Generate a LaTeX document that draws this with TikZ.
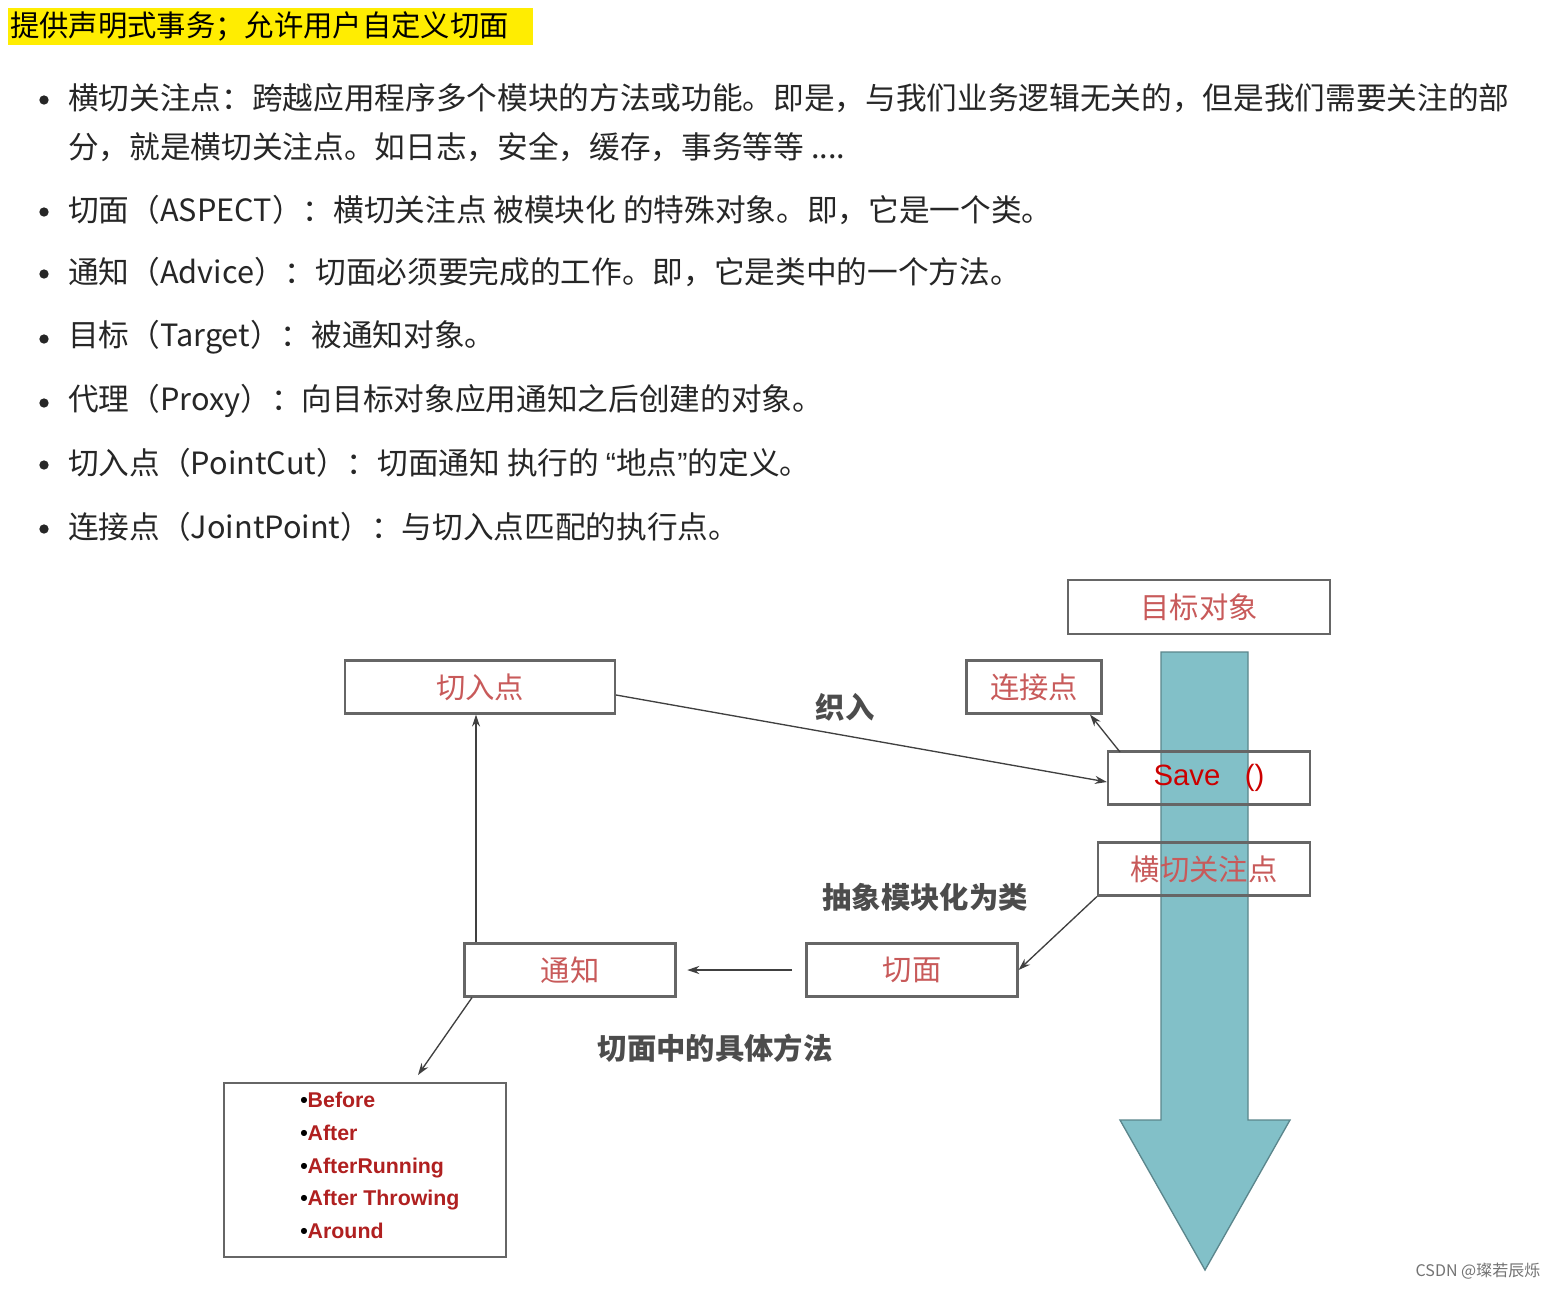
\documentclass[tikz,border=0pt]{standalone}
\usepackage{fontspec}
\setmainfont{Noto Sans CJK SC}
\newfontfamily\latf{Liberation Sans}
\usetikzlibrary{arrows.meta}
\definecolor{boxred}{HTML}{C85A5A}
\definecolor{teal1}{HTML}{82C0C8}
\definecolor{listred}{HTML}{B02020}
\tikzset{
  bx/.style={draw=black!60,line width=1.6pt,fill=white,text=boxred,font=\fontsize{22}{24}\selectfont},
  ln/.style={black!75,line width=1pt,-{Stealth[length=9pt,width=6pt]}},
  bt/.style={anchor=west,font=\fontsize{23}{26}\selectfont,text=black!85},
  lbl/.style={font=\bfseries\fontsize{22}{24}\selectfont,text=black!70},
  dot/.style={circle,fill=black!85,inner sep=0pt,minimum size=7pt}
}
\begin{document}
\begin{tikzpicture}[x=0.75pt,y=-0.75pt]
\useasboundingbox (0,0) rectangle (1561,1289);
\fill[white] (0,0) rectangle (1561,1289);
% title
\fill[yellow!95!orange] (8,8) rectangle (533,45);
\node[anchor=west,font=\fontsize{22}{24}\selectfont,inner sep=0pt] (title) at (10,26) {提供声明式事务；允许用户自定义切面};
% bullets
\foreach \y/\t [count=\i] in {98/{横切关注点：跨越应用程序多个模块的方法或功能。即是，与我们业务逻辑无关的，但是我们需要关注的部},
  210/{切面（ASPECT）：横切关注点 被模块化 的特殊对象。即，它是一个类。},
  272/{通知（Advice）：切面必须要完成的工作。即，它是类中的一个方法。},
  337/{目标（Target）：被通知对象。},
  401/{代理（Proxy）：向目标对象应用通知之后创建的对象。},
  463/{切入点（PointCut）：切面通知 执行的 {\latf“}地点{\latf”}的定义。},
  527/{连接点（JointPoint）：与切入点匹配的执行点。}}{
  \node[dot] (d\i) at (44,\y+2) {};
  \node[bt,inner sep=0pt] (b\i) at (68,\y) {\t};
}
\node[bt,inner sep=0pt] (b1b) at (68,147) {分，就是横切关注点。如日志，安全，缓存，事务等等 ....};
% big arrow
\draw[teal1!70!black,line width=1pt,fill=teal1] (1161,652) -- (1248,652) -- (1248,1120) -- (1290,1120) -- (1205,1270) -- (1120,1120) -- (1161,1120) -- cycle;
% boxes
\node[bx,minimum width=262*0.75pt,minimum height=54*0.75pt] (mb) at (1199,607) {目标对象};
\node[bx,minimum width=270*0.75pt,minimum height=53*0.75pt] (qrd) at (480,687) {切入点};
\node[bx,minimum width=135*0.75pt,minimum height=53*0.75pt] (ljd) at (1034,687) {连接点};
\node[bx,fill=none,minimum width=202*0.75pt,minimum height=53*0.75pt,text=red!80!black,font=\latf\fontsize{22}{24}\selectfont] (save) at (1209,778) {Save\ \ \ ()};
\node[bx,fill=none,minimum width=212*0.75pt,minimum height=53*0.75pt] (hq) at (1204,869) {横切关注点};
\node[bx,minimum width=211*0.75pt,minimum height=53*0.75pt] (tz) at (570,970) {通知};
\node[bx,minimum width=211*0.75pt,minimum height=53*0.75pt] (qm) at (912,970) {切面};
\node[draw=black!60,line width=1.6pt,minimum width=282*0.75pt,minimum height=174*0.75pt] (lst) at (365,1170) {};
\node[anchor=north west,align=left,inner sep=0pt,font=\latf\bfseries\fontsize{16}{24.5}\selectfont,text=listred] (items) at (300,1092)
 {\textcolor{black}{•}Before\\\textcolor{black}{•}After\\\textcolor{black}{•}AfterRunning\\\textcolor{black}{•}After Throwing\\\textcolor{black}{•}Around};
% labels
\node[lbl] (zr) at (845,707) {织入};
\node[lbl] (cx) at (925,897) {抽象模块化为类};
\node[lbl] (jt) at (715,1048) {切面中的具体方法};
% connectors
\draw[ln] (qrd.east) ++(0,8) coordinate (c1) -- (save.west |- 0,782);
\draw[ln] (tz.north -| 476,0) -- (qrd.south -| 476,0);
\draw[ln] (1120,752) -- (ljd.south -| 1090,0);
\draw[ln] (hq.south west) -- (qm.east);
\draw[ln] ([xshift=-10pt]qm.west) -- ([xshift=8pt]tz.east);
\draw[ln] (tz.south -| 472,0) -- (418,1075);
\node[anchor=east,font=\fontsize{12}{14}\selectfont,text=black!55] (wm) at (1545,1271) {CSDN @璨若辰烁};
\end{tikzpicture}
\end{document}
